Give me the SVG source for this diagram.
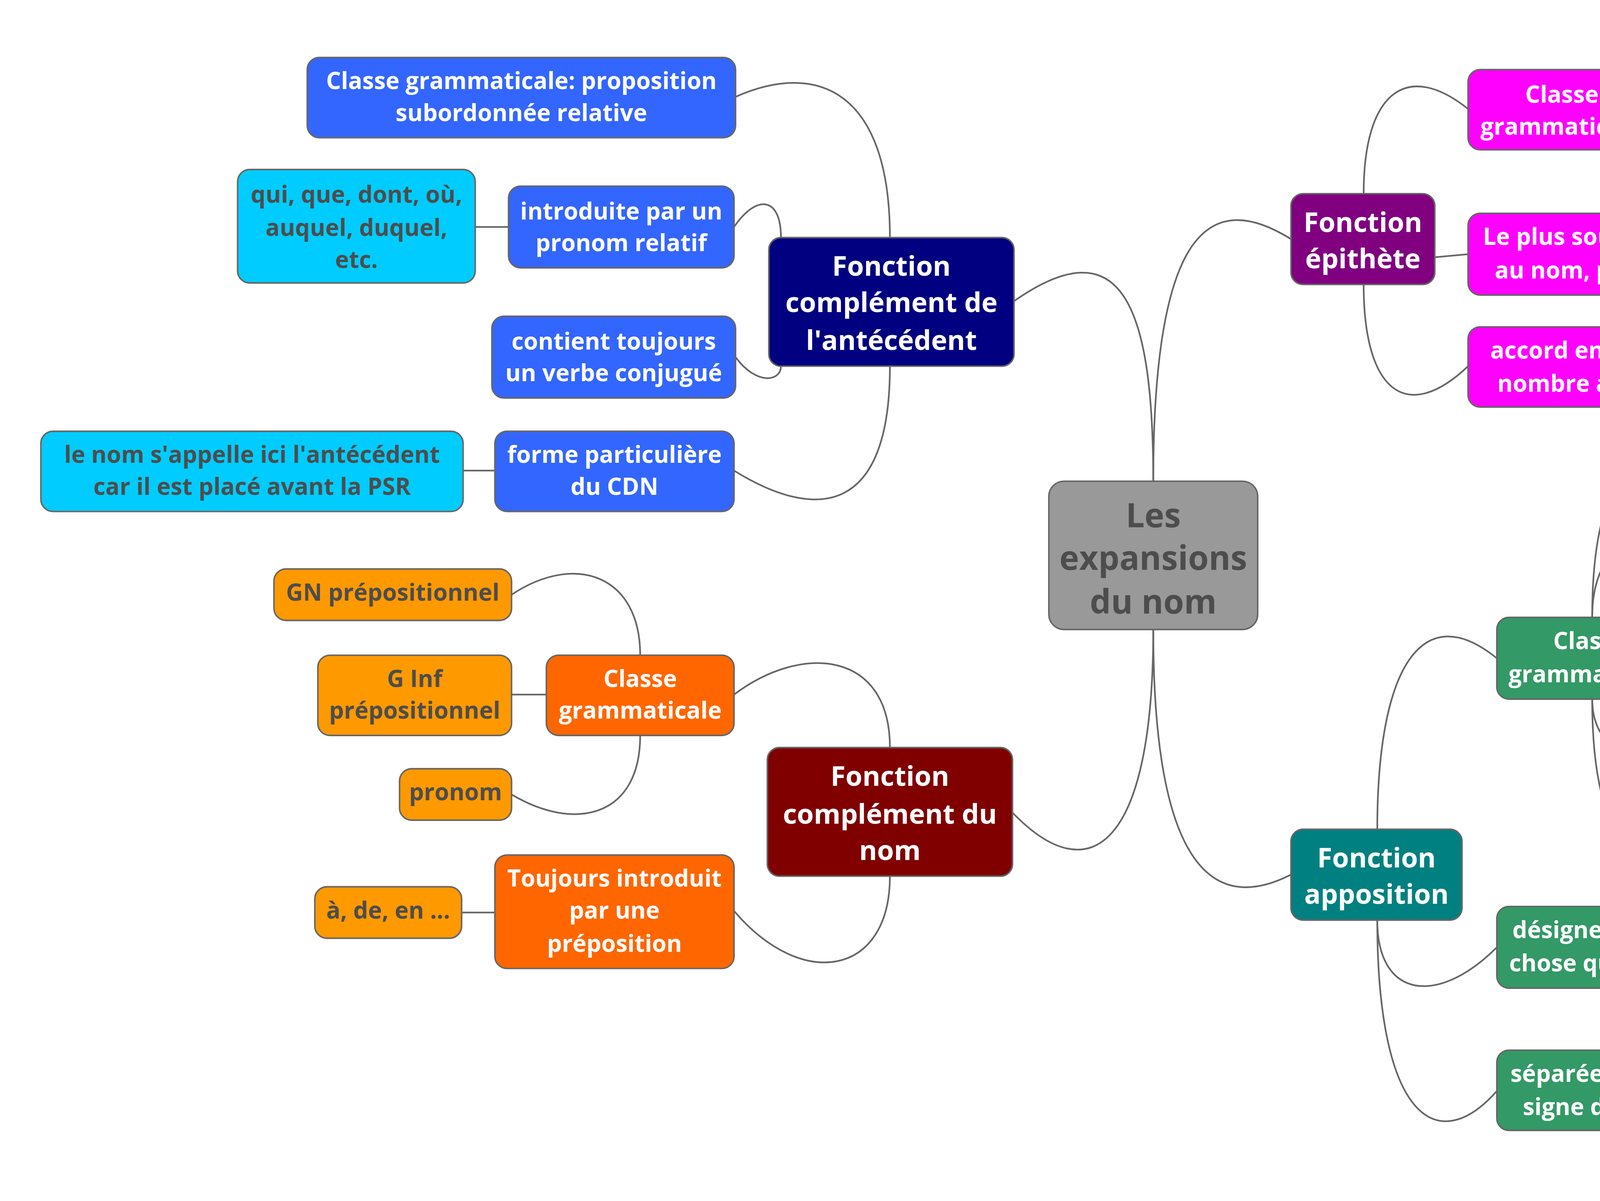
<svg xmlns="http://www.w3.org/2000/svg" width="6075" height="3075" viewBox="0 0 6075 3075">
<style>
rect{stroke:#666;stroke-width:1}
text{font-family:"Open Sans","Noto Sans",sans-serif;font-weight:bold;text-anchor:middle;dominant-baseline:central;font-size:15.5px}
.w{fill:#fff}.d{fill:#4d4d4d}
#connectors path{fill:none;stroke:#666;stroke-width:1.1}
</style>
<rect width="6075" height="3075" fill="#fff" style="stroke:none"/>
<g transform="scale(3.8745)">
<g id="connectors">
<path d="M762,318 C762,199 740,150 670,199"/>
<path d="M588,157 C588,60 540,40 486,64"/>
<path d="M516,157 C516,130 500,128 485,150"/>
<path d="M516,242 C516,252 500,255 486,236"/>
<path d="M588,242 C588,340 540,345 485,311"/>
<path d="M314,150 L336,150"/>
<path d="M306,311 L327,311"/>
<path d="M762,416 C762,560 720,590 669,537"/>
<path d="M588,494 C588,430 530,425 485,459"/>
<path d="M588,579 C588,645 530,655 485,602"/>
<path d="M423,433 C423,380 380,365 338,393"/>
<path d="M338,459 L361,459"/>
<path d="M423,486 C423,540 380,550 338,525"/>
<path d="M305,603 L327,603"/>
<path d="M762,318 C762,150 800,125 853,158"/>
<path d="M901,128 C901,60 930,40 970,72"/>
<path d="M948,170 L970,168"/>
<path d="M901,188 C901,260 930,280 970,242"/>
<path d="M1094,60 C1102,35 1110,32 1117,44"/>
<path d="M1094,85 C1102,110 1110,112 1117,102"/>
<path d="M762,416 C762,570 800,605 853,578"/>
<path d="M910,548 C910,440 940,395 989,435"/>
<path d="M910,608 C910,660 950,665 989,626"/>
<path d="M910,608 C910,740 950,765 989,721"/>
<path d="M1052,408 C1052,300 1090,285 1135,305"/>
<path d="M1052,408 C1052,355 1090,340 1135,362"/>
<path d="M1112,422 L1135,422"/>
<path d="M1052,462 C1052,500 1090,515 1135,490"/>
<path d="M1052,462 C1052,570 1090,585 1135,565"/>
<path d="M1243,560 L1265,560"/>
<path d="M1186,700 C1190,680 1200,678 1208,690"/>
<path d="M1186,735 C1190,762 1200,762 1208,750"/>
</g>
<g id="center"><rect x="693" y="318" width="138" height="98" rx="10" fill="#999"/><text class="d" x="762" style="font-size:22px"><tspan x="762" y="340">Les</tspan><tspan x="762" y="368">expansions</tspan><tspan x="762" y="397">du nom</tspan></text></g>
<g id="cda"><rect x="508" y="157" width="162" height="85" rx="8" fill="#000080"/><text class="w" style="font-size:18px"><tspan x="589" y="175">Fonction</tspan><tspan x="589" y="199">complément de</tspan><tspan x="589" y="224">l'antécédent</tspan></text></g>
<g id="cda1"><rect x="203" y="38" width="283" height="53" rx="8" fill="#3366ff"/><text class="w"><tspan x="344.5" y="53">Classe grammaticale: proposition</tspan><tspan x="344.5" y="74">subordonnée relative</tspan></text></g>
<g id="cda2"><rect x="336" y="123" width="149" height="54" rx="8" fill="#3366ff"/><text class="w"><tspan x="410.5" y="139">introduite par un</tspan><tspan x="410.5" y="160">pronom relatif</tspan></text></g>
<g id="cda2a"><rect x="157" y="112" width="157" height="75" rx="8" fill="#00ccff"/><text class="d"><tspan x="235.5" y="128">qui, que, dont, où,</tspan><tspan x="235.5" y="150">auquel, duquel,</tspan><tspan x="235.5" y="171">etc.</tspan></text></g>
<g id="cda3"><rect x="325" y="209" width="161" height="54" rx="8" fill="#3366ff"/><text class="w"><tspan x="405.5" y="225">contient toujours</tspan><tspan x="405.5" y="246">un verbe conjugué</tspan></text></g>
<g id="cda4"><rect x="327" y="285" width="158" height="53" rx="8" fill="#3366ff"/><text class="w"><tspan x="406" y="300">forme particulière</tspan><tspan x="406" y="321">du CDN</tspan></text></g>
<g id="cda4a"><rect x="27" y="285" width="279" height="53" rx="8" fill="#00ccff"/><text class="d"><tspan x="166.5" y="300">le nom s'appelle ici l'antécédent</tspan><tspan x="166.5" y="321">car il est placé avant la PSR</tspan></text></g>
<g id="cdn"><rect x="507" y="494" width="162" height="85" rx="8" fill="#800000"/><text class="w" style="font-size:18px"><tspan x="588" y="512">Fonction</tspan><tspan x="588" y="537">complément du</tspan><tspan x="588" y="561">nom</tspan></text></g>
<g id="cdn1"><rect x="361" y="433" width="124" height="53" rx="8" fill="#ff6600"/><text class="w"><tspan x="423" y="448">Classe</tspan><tspan x="423" y="469">grammaticale</tspan></text></g>
<g id="cdn1a"><rect x="181" y="376" width="157" height="34" rx="8" fill="#ff9900"/><text class="d" x="259.5" y="391">GN prépositionnel</text></g>
<g id="cdn1b"><rect x="210" y="433" width="128" height="53" rx="8" fill="#ff9900"/><text class="d"><tspan x="274" y="448">G Inf</tspan><tspan x="274" y="469">prépositionnel</tspan></text></g>
<g id="cdn1c"><rect x="264" y="508" width="74" height="34" rx="8" fill="#ff9900"/><text class="d" x="301" y="523">pronom</text></g>
<g id="cdn2"><rect x="327" y="565" width="158" height="75" rx="8" fill="#ff6600"/><text class="w"><tspan x="406" y="580">Toujours introduit</tspan><tspan x="406" y="601">par une</tspan><tspan x="406" y="623">préposition</tspan></text></g>
<g id="cdn2a"><rect x="208" y="586" width="97" height="34" rx="8" fill="#ff9900"/><text class="d" x="256.5" y="601">à, de, en ...</text></g>
<g id="epi"><rect x="853" y="128" width="95" height="60" rx="8" fill="#800080"/><text class="w" style="font-size:18px"><tspan x="900.5" y="146">Fonction</tspan><tspan x="900.5" y="170">épithète</tspan></text></g>
<g id="epi1"><rect x="970" y="46" width="124" height="53" rx="8" fill="#ff00ff"/><text class="w"><tspan x="1032" y="62">Classe</tspan><tspan x="1032" y="83">grammaticale</tspan></text></g>
<g id="epi1a"><rect x="1117" y="27" width="163" height="34" rx="8" fill="#ff99cc"/><text class="d" x="1198.5" y="42">adjectif qualificatif</text></g>
<g id="epi1b"><rect x="1117" y="84" width="290" height="35" rx="8" fill="#ff99cc"/><text class="d" x="1262" y="100">participe employé comme adjectif</text></g>
<g id="epi2"><rect x="970" y="141" width="232" height="54" rx="8" fill="#ff00ff"/><text class="w"><tspan x="1086" y="156">Le plus souvent liée (collée)</tspan><tspan x="1086" y="178">au nom, parfois détachée</tspan></text></g>
<g id="epi3"><rect x="970" y="216" width="196" height="53" rx="8" fill="#ff00ff"/><text class="w"><tspan x="1068" y="231">accord en genre et en</tspan><tspan x="1068" y="253">nombre avec le nom</tspan></text></g>
<g id="app"><rect x="853" y="548" width="113" height="60" rx="8" fill="#008080"/><text class="w" style="font-size:18px"><tspan x="909.5" y="566">Fonction</tspan><tspan x="909.5" y="590">apposition</tspan></text></g>
<g id="app1"><rect x="989" y="408" width="123" height="54" rx="8" fill="#339966"/><text class="w"><tspan x="1050.5" y="423">Classe</tspan><tspan x="1050.5" y="445">grammaticale</tspan></text></g>
<g id="app1a"><rect x="1135" y="292" width="36" height="34" rx="8" fill="#99cc00"/><text class="d" x="1153" y="307">GN</text></g>
<g id="app1b"><rect x="1135" y="349" width="74" height="34" rx="8" fill="#99cc00"/><text class="d" x="1172" y="364">pronom</text></g>
<g id="app1c"><rect x="1135" y="405" width="132" height="35" rx="8" fill="#99cc00"/><text class="d" x="1201" y="421">groupe infinitif</text></g>
<g id="app1d"><rect x="1135" y="463" width="221" height="53" rx="8" fill="#99cc00"/><text class="d"><tspan x="1245.5" y="478">proposition subordonnée</tspan><tspan x="1245.5" y="499">conjonctive</tspan></text></g>
<g id="app1e"><rect x="1135" y="542" width="108" height="35" rx="8" fill="#99cc00"/><text class="d" x="1189" y="558">Nom propre</text></g>
<g id="app1e1"><rect x="1265" y="538" width="276" height="45" rx="8" fill="#99cc00"/><text class="d" style="font-size:13px"><tspan x="1403" y="552">dans ce cas peut être introduite par une</tspan><tspan x="1403" y="570">préposition ou juste posée à côté du nom</tspan></text></g>
<g id="app2"><rect x="989" y="599" width="151" height="54" rx="8" fill="#339966"/><text class="w"><tspan x="1064.5" y="614">désigne la même</tspan><tspan x="1064.5" y="636">chose que le nom</tspan></text></g>
<g id="app3"><rect x="989" y="694" width="197" height="53" rx="8" fill="#339966"/><text class="w"><tspan x="1087.5" y="709">séparée du nom par un</tspan><tspan x="1087.5" y="731">signe de ponctuation</tspan></text></g>
<g id="app3a"><rect x="1208" y="675" width="67" height="34" rx="8" fill="#99cc00"/><text class="d" x="1241.5" y="690">virgule</text></g>
<g id="app3b"><rect x="1208" y="731" width="105" height="36" rx="8" fill="#99cc00"/><text class="d" x="1260.5" y="747">deux points</text></g>
</g>
</svg>
